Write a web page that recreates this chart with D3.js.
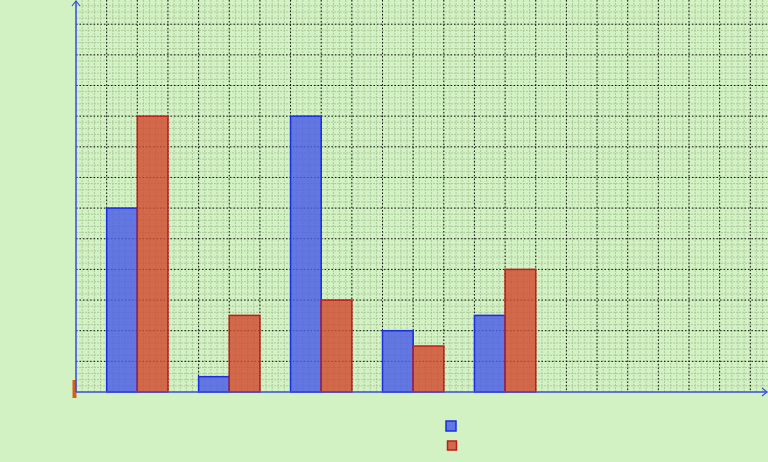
<!DOCTYPE html>
<html>
<head>
<meta charset="utf-8">
<script src="https://cdn.jsdelivr.net/npm/d3@7"></script>
<style>
  html, body { margin: 0; padding: 0; background: #d3f2c4; }
  svg { display: block; }
</style>
</head>
<body>
<svg id="chart" width="768" height="462"></svg>
<script>
// values, in grid units
var categories = ["A", "B", "C", "D", "E"];
var seriesBlue = [6, 0.5, 9, 2, 2.5];
var seriesRed = [9, 2.5, 3, 1.5, 4];

var W = 768, H = 462;
var originX = 76, originY = 392, unit = 30.65;

var svg = d3.select("#chart");

var x = d3.scaleLinear().domain([0, 1]).range([originX, originX + unit]);
var y = d3.scaleLinear().domain([0, 1]).range([originY, originY - unit]);

var maxX = (W - originX) / unit, maxY = originY / unit;

// minor grid
var minorX = d3.range(0, maxX, 0.2), minorY = d3.range(0, maxY, 0.2);
var g = svg.append("g");
g.selectAll(".mx").data(minorX).enter().append("line")
  .attr("x1", d => x(d)).attr("x2", d => x(d))
  .attr("y1", 0).attr("y2", originY)
  .attr("stroke", "#aec99f").attr("stroke-width", 1).attr("stroke-dasharray", "2,1");
g.selectAll(".my").data(minorY).enter().append("line")
  .attr("x1", originX).attr("x2", W)
  .attr("y1", d => y(d)).attr("y2", d => y(d))
  .attr("stroke", "#aec99f").attr("stroke-width", 1).attr("stroke-dasharray", "2,1");

// major grid
var majorX = d3.range(1, maxX, 1), majorY = d3.range(1, maxY, 1);
g = svg.append("g");
g.selectAll(".Mx").data(majorX).enter().append("line")
  .attr("x1", d => x(d)).attr("x2", d => x(d))
  .attr("y1", 0).attr("y2", originY)
  .attr("stroke", "#000").attr("stroke-width", 1).attr("stroke-dasharray", "1.5,2").attr("opacity", 0.9);
g.selectAll(".My").data(majorY).enter().append("line")
  .attr("x1", originX).attr("x2", W)
  .attr("y1", d => y(d)).attr("y2", d => y(d))
  .attr("stroke", "#000").attr("stroke-width", 1).attr("stroke-dasharray", "1.5,2").attr("opacity", 0.9);

// bars
var bars = svg.append("g");
bars.selectAll(".b").data(seriesBlue).enter().append("rect")
  .attr("x", (d, i) => x(3 * i + 1)).attr("width", x(1) - x(0))
  .attr("y", d => y(d)).attr("height", d => y(0) - y(d))
  .attr("fill", "#4a5ce8").attr("fill-opacity", 0.82)
  .attr("stroke", "#1a2ee0").attr("stroke-width", 1.5);
bars.selectAll(".r").data(seriesRed).enter().append("rect")
  .attr("x", (d, i) => x(3 * i + 2)).attr("width", x(1) - x(0))
  .attr("y", d => y(d)).attr("height", d => y(0) - y(d))
  .attr("fill", "#d24a30").attr("fill-opacity", 0.82)
  .attr("stroke", "#c01c1c").attr("stroke-width", 1.5);

// axes
svg.append("rect").attr("x", 72.5).attr("y", 380).attr("width", 4).attr("height", 18)
  .attr("fill", "#d2601a");
svg.append("line").attr("x1", originX).attr("x2", W - 1).attr("y1", originY).attr("y2", originY)
  .attr("stroke", "#3a50e0").attr("stroke-width", 1.5);
svg.append("line").attr("x1", originX).attr("x2", originX).attr("y1", originY).attr("y2", 1)
  .attr("stroke", "#3a50e0").attr("stroke-width", 1.5);
svg.append("path").attr("d", `M${originX - 4},${6} L${originX},${1} L${originX + 4},${6}`)
  .attr("fill", "none").attr("stroke", "#3a50e0").attr("stroke-width", 1.2);
svg.append("path").attr("d", `M${W - 6},${originY - 4} L${W - 1},${originY} L${W - 6},${originY + 4}`)
  .attr("fill", "none").attr("stroke", "#3a50e0").attr("stroke-width", 1.2);

// legend (no labels)
var legend = svg.append("g");
legend.append("rect").attr("x", 446).attr("y", 421).attr("width", 10).attr("height", 10)
  .attr("fill", "#4a5ce8").attr("fill-opacity", 0.82).attr("stroke", "#1a2ee0").attr("stroke-width", 1.5);
legend.append("rect").attr("x", 447.5).attr("y", 441).attr("width", 9).attr("height", 9)
  .attr("fill", "#d24a30").attr("fill-opacity", 0.82).attr("stroke", "#c01c1c").attr("stroke-width", 1.5);
</script>
</body>
</html>
